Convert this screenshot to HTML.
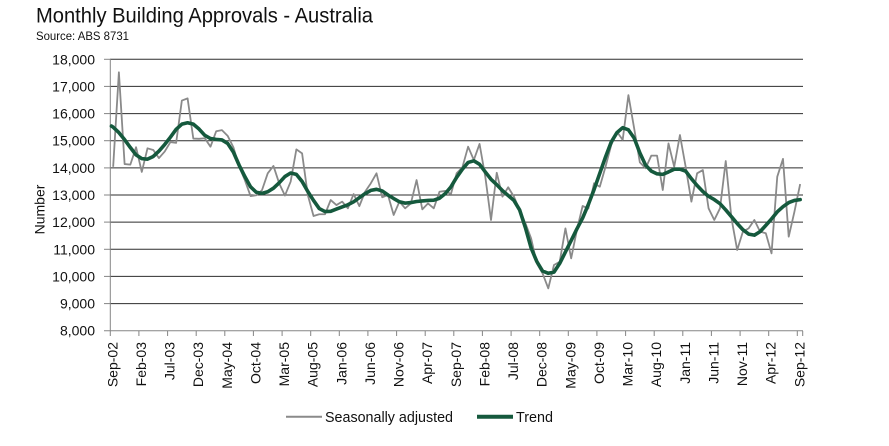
<!DOCTYPE html>
<html><head><meta charset="utf-8"><style>
html,body{margin:0;padding:0;background:#fff;}
svg{display:block;font-family:"Liberation Sans",Arial,sans-serif;}
</style></head><body>
<svg width="889" height="446" viewBox="0 0 889 446" xmlns="http://www.w3.org/2000/svg">
<rect width="889" height="446" fill="#fff"/>
<text x="36" y="22.7" font-size="21" textLength="337" lengthAdjust="spacingAndGlyphs" fill="#111">Monthly Building Approvals - Australia</text>
<text x="36" y="40" font-size="11.5" textLength="93" lengthAdjust="spacingAndGlyphs" fill="#111">Source: ABS 8731</text>

<g stroke="#2e2e2e" stroke-width="1">
<line x1="110" y1="59.3" x2="803" y2="59.3"/>
<line x1="110" y1="86.4" x2="803" y2="86.4"/>
<line x1="110" y1="113.6" x2="803" y2="113.6"/>
<line x1="110" y1="140.7" x2="803" y2="140.7"/>
<line x1="110" y1="167.9" x2="803" y2="167.9"/>
<line x1="110" y1="195" x2="803" y2="195"/>
<line x1="110" y1="222.1" x2="803" y2="222.1"/>
<line x1="110" y1="249.3" x2="803" y2="249.3"/>
<line x1="110" y1="276.4" x2="803" y2="276.4"/>
<line x1="110" y1="303.6" x2="803" y2="303.6"/>
</g>
<g stroke="#858585" stroke-width="1">
<line x1="110.3" y1="59" x2="110.3" y2="331"/>
<line x1="104" y1="330.7" x2="803" y2="330.7"/>
<line x1="104" y1="59.3" x2="110" y2="59.3"/>
<line x1="104" y1="86.4" x2="110" y2="86.4"/>
<line x1="104" y1="113.6" x2="110" y2="113.6"/>
<line x1="104" y1="140.7" x2="110" y2="140.7"/>
<line x1="104" y1="167.9" x2="110" y2="167.9"/>
<line x1="104" y1="195" x2="110" y2="195"/>
<line x1="104" y1="222.1" x2="110" y2="222.1"/>
<line x1="104" y1="249.3" x2="110" y2="249.3"/>
<line x1="104" y1="276.4" x2="110" y2="276.4"/>
<line x1="104" y1="303.6" x2="110" y2="303.6"/>
<path d="M110.3 331v5M138.9 331v5M167.6 331v5M196.2 331v5M224.8 331v5M253.4 331v5M282.1 331v5M310.7 331v5M339.3 331v5M367.9 331v5M396.6 331v5M425.2 331v5M453.8 331v5M482.4 331v5M511.1 331v5M539.7 331v5M568.3 331v5M596.9 331v5M625.6 331v5M654.2 331v5M682.8 331v5M711.4 331v5M740.1 331v5M768.7 331v5M797.3 331v5M802.7 331v5"/>
</g>

<g font-size="14" fill="#111" text-anchor="end">
<text x="95" y="64.3">18,000</text>
<text x="95" y="91.4">17,000</text>
<text x="95" y="118.6">16,000</text>
<text x="95" y="145.7">15,000</text>
<text x="95" y="172.9">14,000</text>
<text x="95" y="200">13,000</text>
<text x="95" y="227.1">12,000</text>
<text x="95" y="254.3">11,000</text>
<text x="95" y="281.4">10,000</text>
<text x="95" y="308.6">9,000</text>
<text x="95" y="335.7">8,000</text>
</g>
<text transform="translate(44.3,209.5) rotate(-90)" font-size="14" fill="#111" text-anchor="middle">Number</text>

<g font-size="14" fill="#111" text-anchor="end">
<text transform="translate(117.3,342) rotate(-90)">Sep-02</text>
<text transform="translate(145.9,342) rotate(-90)">Feb-03</text>
<text transform="translate(174.6,342) rotate(-90)">Jul-03</text>
<text transform="translate(203.2,342) rotate(-90)">Dec-03</text>
<text transform="translate(231.8,342) rotate(-90)">May-04</text>
<text transform="translate(260.4,342) rotate(-90)">Oct-04</text>
<text transform="translate(289.1,342) rotate(-90)">Mar-05</text>
<text transform="translate(317.7,342) rotate(-90)">Aug-05</text>
<text transform="translate(346.3,342) rotate(-90)">Jan-06</text>
<text transform="translate(374.9,342) rotate(-90)">Jun-06</text>
<text transform="translate(403.6,342) rotate(-90)">Nov-06</text>
<text transform="translate(432.2,342) rotate(-90)">Apr-07</text>
<text transform="translate(460.8,342) rotate(-90)">Sep-07</text>
<text transform="translate(489.4,342) rotate(-90)">Feb-08</text>
<text transform="translate(518.1,342) rotate(-90)">Jul-08</text>
<text transform="translate(546.7,342) rotate(-90)">Dec-08</text>
<text transform="translate(575.3,342) rotate(-90)">May-09</text>
<text transform="translate(603.9,342) rotate(-90)">Oct-09</text>
<text transform="translate(632.6,342) rotate(-90)">Mar-10</text>
<text transform="translate(661.2,342) rotate(-90)">Aug-10</text>
<text transform="translate(689.8,342) rotate(-90)">Jan-11</text>
<text transform="translate(718.4,342) rotate(-90)">Jun-11</text>
<text transform="translate(747.1,342) rotate(-90)">Nov-11</text>
<text transform="translate(775.7,342) rotate(-90)">Apr-12</text>
<text transform="translate(804.3,342) rotate(-90)">Sep-12</text>
</g>

<g transform="translate(113.16,547.82) scale(5.725,-0.02714)">
<polyline fill="none" stroke="#8a8a8a" stroke-width="1.8" stroke-linejoin="round" vector-effect="non-scaling-stroke" points="0,14040 1,17520 2,14140 3,14120 4,14760 5,13850 6,14720 7,14660 8,14360 9,14600 10,14950 11,14920 12,16480 13,16560 14,15080 15,15070 16,15090 17,14780 18,15350 19,15390 20,15180 21,14760 22,14060 23,13550 24,12960 25,12990 26,13180 27,13800 28,14070 29,13430 30,12980 31,13490 32,14680 33,14535 34,13000 35,12225 36,12290 37,12290 38,12815 39,12630 40,12755 41,12510 42,13035 43,12590 44,13120 45,13430 46,13800 47,12915 48,13000 49,12265 50,12755 51,12510 52,12690 53,13550 54,12470 55,12690 56,12510 57,13120 58,13150 59,13035 60,13800 61,14020 62,14780 63,14290 64,14880 65,13675 66,12080 67,13820 68,12940 69,13285 70,12940 71,12450 72,11960 73,11405 74,10480 75,10115 76,9560 77,10420 78,10540 79,11770 80,10665 81,11710 82,12595 83,12500 84,13430 85,13305 86,14040 87,14840 88,15330 89,15030 90,16680 91,15460 92,14200 93,13985 94,14450 95,14450 96,13185 97,14900 98,14040 99,15210 100,14040 101,12755 102,13800 103,13920 104,12510 105,12080 106,12510 107,14250 108,12140 109,10975 110,11650 111,11770 112,12080 113,11650 114,11590 115,10850 116,13675 117,14330 118,11465 119,12385 120,13405"/>
<polyline fill="none" stroke="#15593d" stroke-width="3.6" stroke-linejoin="round" stroke-linecap="round" vector-effect="non-scaling-stroke" points="-0.3,15540 0,15500 1,15300 2,15040 3,14750 4,14480 5,14340 6,14320 7,14420 8,14620 9,14860 10,15130 11,15420 12,15610 13,15660 14,15610 15,15430 16,15200 17,15080 18,15050 19,15030 20,14900 21,14580 22,14100 23,13680 24,13300 25,13100 26,13060 27,13120 28,13250 29,13450 30,13680 31,13810 32,13760 33,13500 34,13130 35,12800 36,12500 37,12390 38,12400 39,12480 40,12560 41,12640 42,12750 43,12900 44,13050 45,13170 46,13210 47,13150 48,13000 49,12870 50,12750 51,12700 52,12720 53,12760 54,12780 55,12800 56,12810 57,12880 58,13050 59,13300 60,13650 61,13950 62,14200 63,14260 64,14130 65,13850 66,13580 67,13380 68,13160 69,12980 70,12800 71,12450 72,11800 73,11050 74,10550 75,10200 76,10115 77,10160 78,10480 79,10900 80,11320 81,11750 82,12150 83,12650 84,13200 85,13800 86,14400 87,14950 88,15300 89,15480 90,15400 91,15100 92,14550 93,14100 94,13880 95,13780 96,13760 97,13850 98,13950 99,13950 100,13880 101,13600 102,13350 103,13130 104,12950 105,12830 106,12680 107,12450 108,12200 109,11950 110,11720 111,11560 112,11520 113,11650 114,11880 115,12120 116,12380 117,12570 118,12720 119,12800 120,12830"/>
</g>

<line x1="286" y1="416.7" x2="322" y2="416.7" stroke="#8a8a8a" stroke-width="2"/>
<text x="325" y="421.8" font-size="14.3" fill="#111" textLength="128" lengthAdjust="spacingAndGlyphs">Seasonally adjusted</text>
<line x1="477" y1="416.7" x2="513" y2="416.7" stroke="#15593d" stroke-width="4"/>
<text x="516" y="421.8" font-size="14.3" fill="#111" textLength="37" lengthAdjust="spacingAndGlyphs">Trend</text>
</svg>
</body></html>
